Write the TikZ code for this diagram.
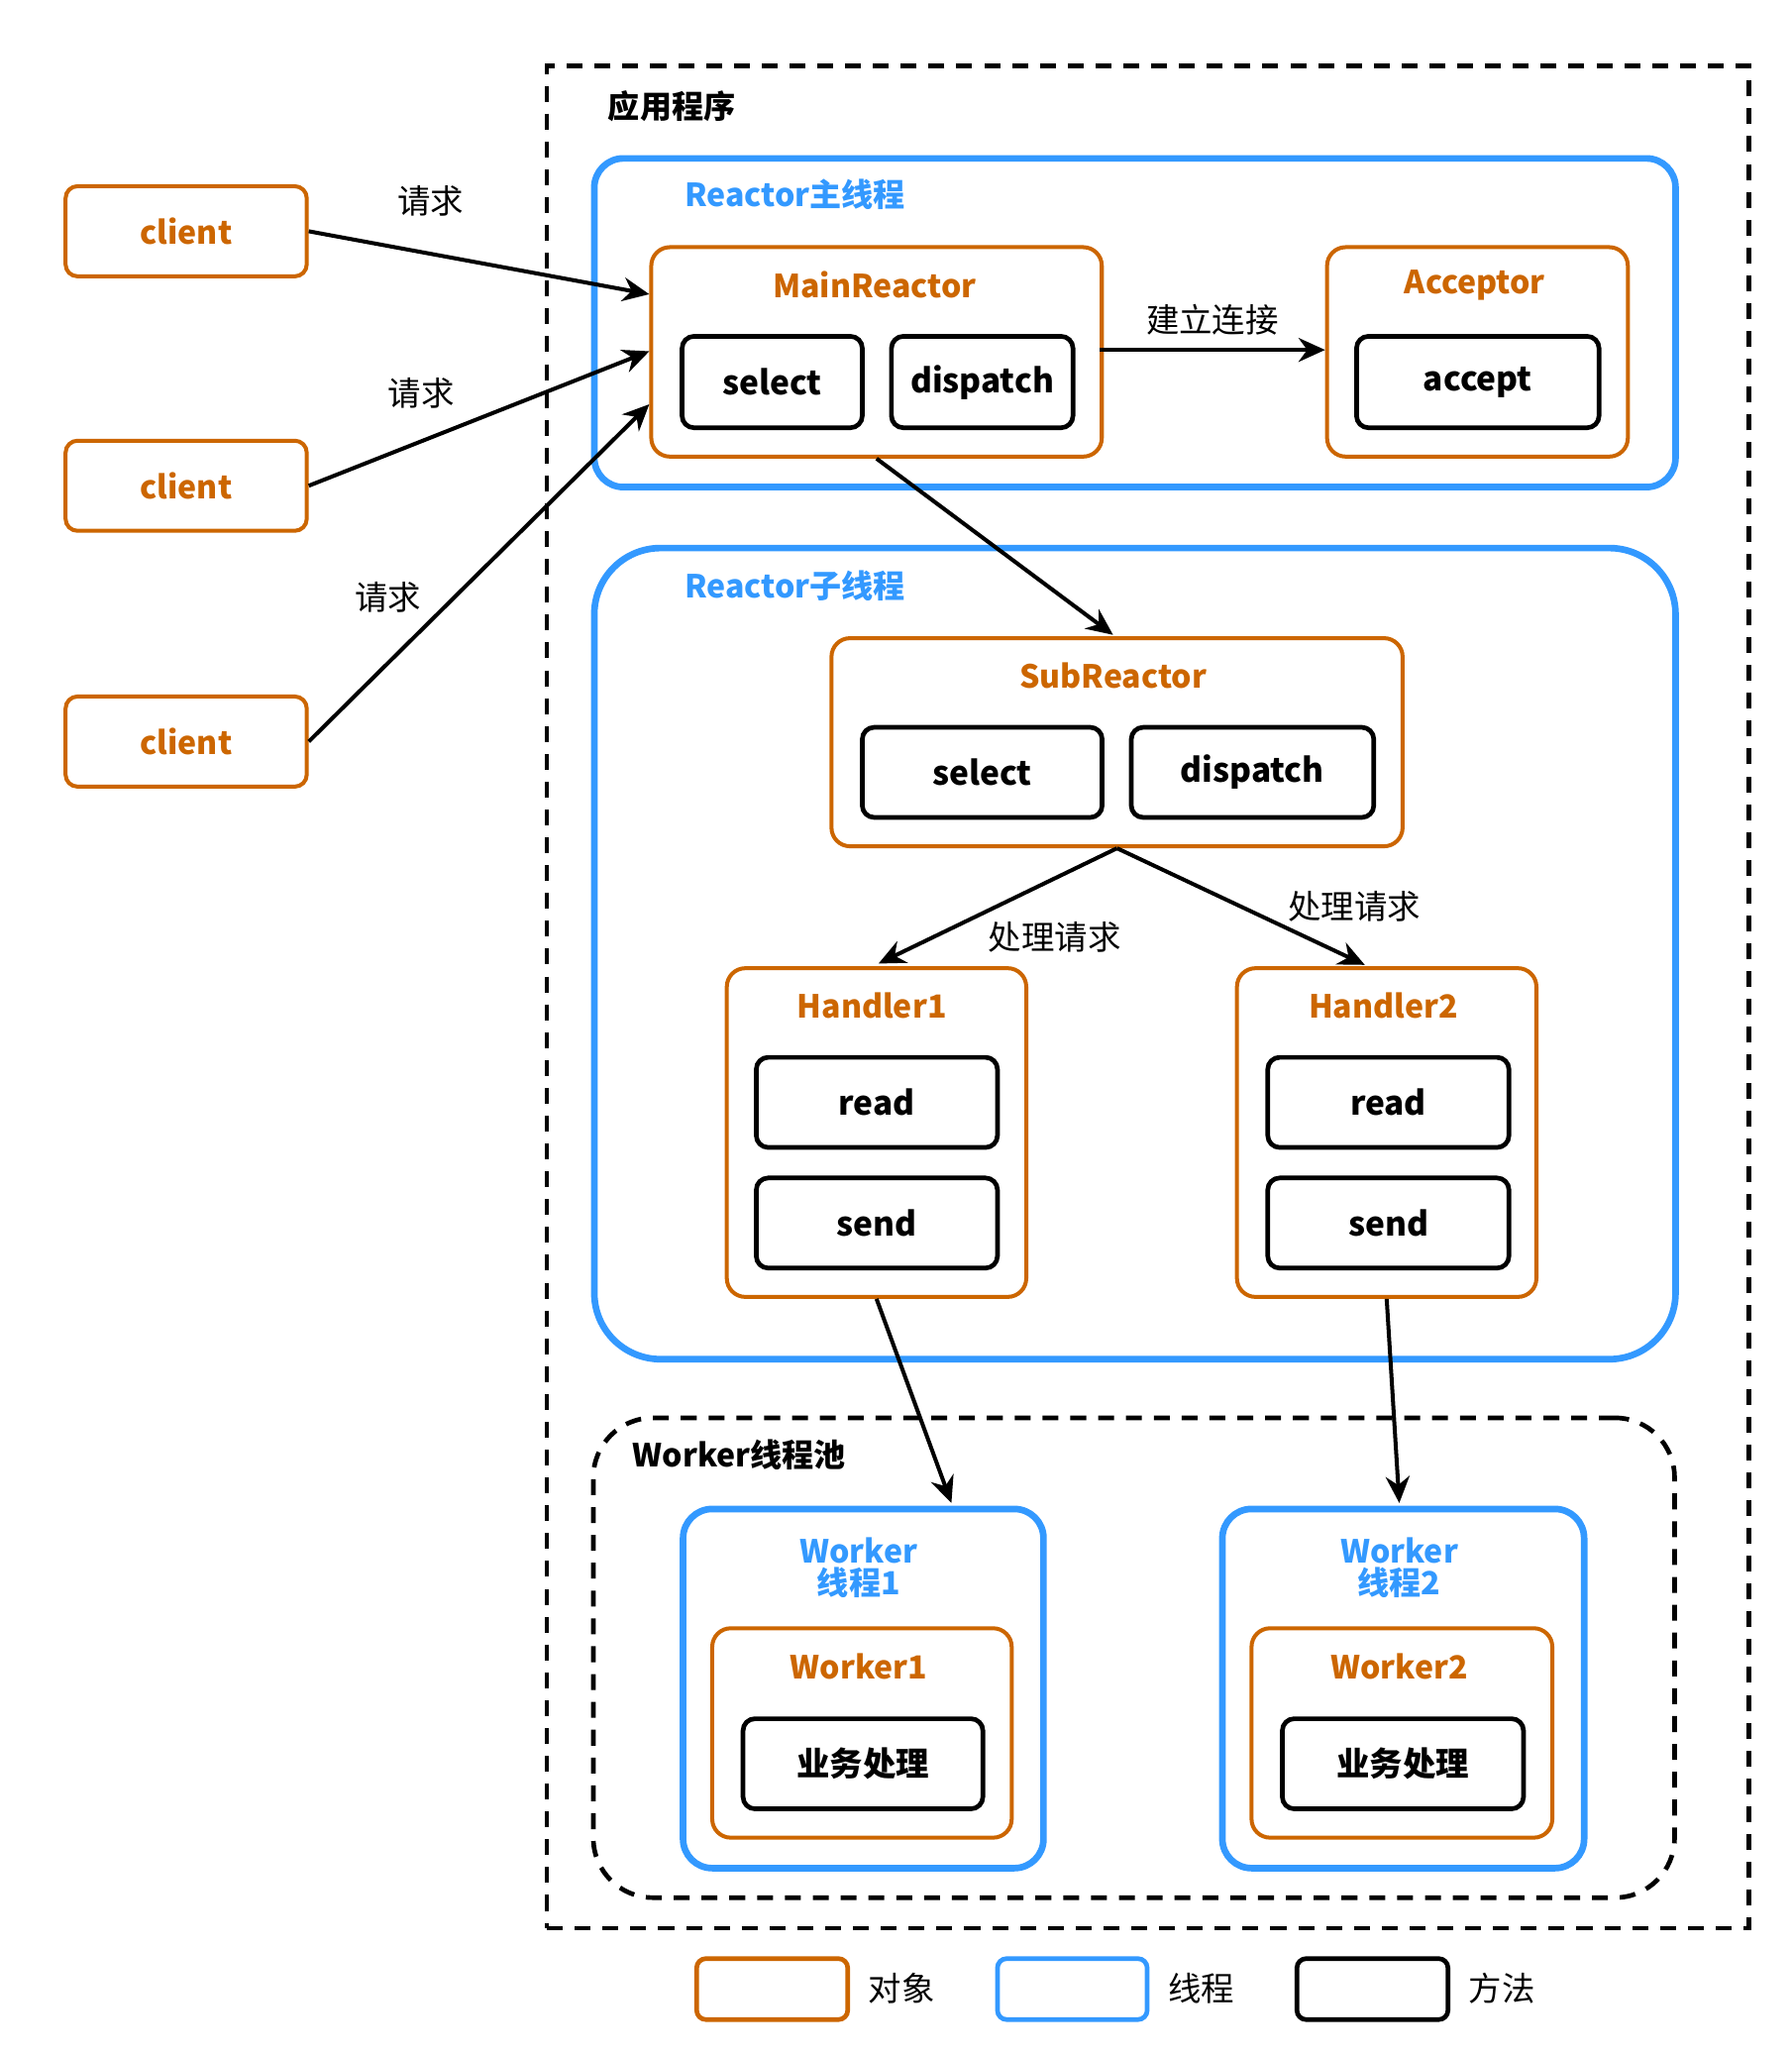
\documentclass[tikz,border=0pt]{standalone}
\usepackage{fontspec}
\setmainfont{Noto Sans CJK SC}
\usetikzlibrary{arrows.meta}
\definecolor{org}{HTML}{CC6600}
\definecolor{blu}{HTML}{3399FF}
\begin{document}
\begin{tikzpicture}[x=1pt,y=-1pt,
 box/.style={anchor=north west,inner sep=0,rounded corners=#1},
 obj/.style={box=14pt,draw=org,line width=3pt},
 thr/.style={box=22pt,draw=blu,line width=5pt},
 mth/.style={box=9pt,draw=black,line width=3.5pt,font=\fontsize{25}{28}\selectfont\bfseries},
 olab/.style={text=org,font=\fontsize{24}{28}\selectfont\bfseries},
 blab/.style={text=blu,font=\fontsize{24}{28}\selectfont\bfseries,align=center},
 klab/.style={text=black,font=\fontsize{24}{28}\selectfont\bfseries},
 tlab/.style={font=\fontsize{25}{28}\selectfont},
 arr/.style={line width=3pt,-{Stealth[length=20pt,width=18pt]}}]
\useasboundingbox (0,0) rectangle (1352,1552);
\fill[white] (0,0) rectangle (1352,1552);
% outer
\node[box=0pt,draw,dashed,line width=3.5pt,dash pattern=on 12pt off 9pt,minimum width=907pt,minimum height=1405pt] (app) at (411,48) {};
\node[klab] (appl) at (507,80) {应用程序};
% main thread
\node[thr,minimum width=816pt,minimum height=248pt] (mt) at (446,117) {};
\node[blab] (mtl) at (600,147) {Reactor主线程};
\node[obj,minimum width=340pt,minimum height=158pt] (mr) at (490,185) {};
\node[olab] (mrl) at (660,215) {MainReactor};
\node[mth,minimum width=136pt,minimum height=69pt] (s1) at (513,252) {select};
\node[mth,minimum width=137pt,minimum height=69pt] (d1) at (671,252) {dispatch};
\node[obj,minimum width=227pt,minimum height=158pt] (ac) at (1000,185) {};
\node[olab] (acl) at (1113,215) {Acceptor};
\node[mth,minimum width=183pt,minimum height=69pt] (acc) at (1022,252) {accept};
\draw[arr] (830,264) -- node[tlab,above=6pt] (l0) {建立连接} (1000,264);
% sub thread
\node[box=50pt,draw=blu,line width=5pt,minimum width=816pt,minimum height=612pt] (st) at (446,411) {};
\node[blab] (stl) at (600,442) {Reactor子线程};
\node[obj,minimum width=431pt,minimum height=157pt] (sr) at (626,480) {};
\node[olab] (srl) at (840,510) {SubReactor};
\node[mth,minimum width=181pt,minimum height=68pt] (s2) at (649,547) {select};
\node[mth,minimum width=183pt,minimum height=68pt] (d2) at (852,547) {dispatch};
\draw[arr] (mr.south) -- (840,479);
\node[obj,minimum width=226pt,minimum height=248pt] (h1) at (547,729) {};
\node[olab] (h1l) at (658,759) {Handler1};
\node[mth,minimum width=182pt,minimum height=68pt] (r1) at (569,796) {read};
\node[mth,minimum width=182pt,minimum height=68pt] (e1) at (569,887) {send};
\node[obj,minimum width=226pt,minimum height=248pt] (h2) at (932,729) {};
\node[olab] (h2l) at (1044,759) {Handler2};
\node[mth,minimum width=182pt,minimum height=68pt] (r2) at (955,796) {read};
\node[mth,minimum width=182pt,minimum height=68pt] (e2) at (955,887) {send};
\draw[arr] (sr.south) -- (663,727);
\draw[arr] (sr.south) -- (1030,728);
\node[tlab] (l1) at (796,707) {处理请求};
\node[tlab] (l2) at (1022,684) {处理请求};
% worker pool
\node[box=45pt,draw,line width=3.5pt,dash pattern=on 12pt off 9pt,minimum width=816pt,minimum height=362pt] (wp) at (446,1068) {};
\node[klab] (wpl) at (558,1098) {Worker线程池};
\node[thr,minimum width=272pt,minimum height=271pt] (wt1) at (513,1136) {};
\node[blab] (wt1l) at (648,1183) {Worker\\[-4pt]线程1};
\node[obj,minimum width=226pt,minimum height=158pt] (w1) at (536,1227) {};
\node[olab] (w1l) at (648,1257) {Worker1};
\node[mth,minimum width=181pt,minimum height=68pt] (b1) at (559,1295) {业务处理};
\node[thr,minimum width=273pt,minimum height=271pt] (wt2) at (920,1136) {};
\node[blab] (wt2l) at (1056,1183) {Worker\\[-4pt]线程2};
\node[obj,minimum width=227pt,minimum height=158pt] (w2) at (943,1227) {};
\node[olab] (w2l) at (1056,1257) {Worker2};
\node[mth,minimum width=182pt,minimum height=68pt] (b2) at (966,1295) {业务处理};
\draw[arr] (h1.south) -- (718,1134);
\draw[arr] (h2.south) -- (1056,1134);
% clients
\node[obj,box=9pt,minimum width=182pt,minimum height=68pt,text=org,font=\fontsize{24}{28}\selectfont\bfseries] (c1) at (48,139) {client};
\node[obj,box=9pt,minimum width=182pt,minimum height=68pt,text=org,font=\fontsize{24}{28}\selectfont\bfseries] (c2) at (48,331) {client};
\node[obj,box=9pt,minimum width=182pt,minimum height=68pt,text=org,font=\fontsize{24}{28}\selectfont\bfseries] (c3) at (48,524) {client};
\draw[arr] (c1.east) -- (490,222);
\draw[arr] (c2.east) -- (490,265);
\draw[arr] (c3.east) -- (490,305);
\node[tlab] (q1) at (325,152) {请求};
\node[tlab] (q2) at (318,297) {请求};
\node[tlab] (q3) at (293,451) {请求};
% legend
\node[box=7pt,draw=org,line width=3.5pt,minimum width=114pt,minimum height=46pt] (g1) at (524,1476) {};
\node[tlab,anchor=west] (g1l) at (652,1500) {对象};
\node[box=7pt,draw=blu,line width=3.5pt,minimum width=113pt,minimum height=46pt] (g2) at (751,1476) {};
\node[tlab,anchor=west] (g2l) at (878,1500) {线程};
\node[box=7pt,draw=black,line width=3.5pt,minimum width=114pt,minimum height=46pt] (g3) at (977,1476) {};
\node[tlab,anchor=west] (g3l) at (1105,1500) {方法};
\end{tikzpicture}
\end{document}
